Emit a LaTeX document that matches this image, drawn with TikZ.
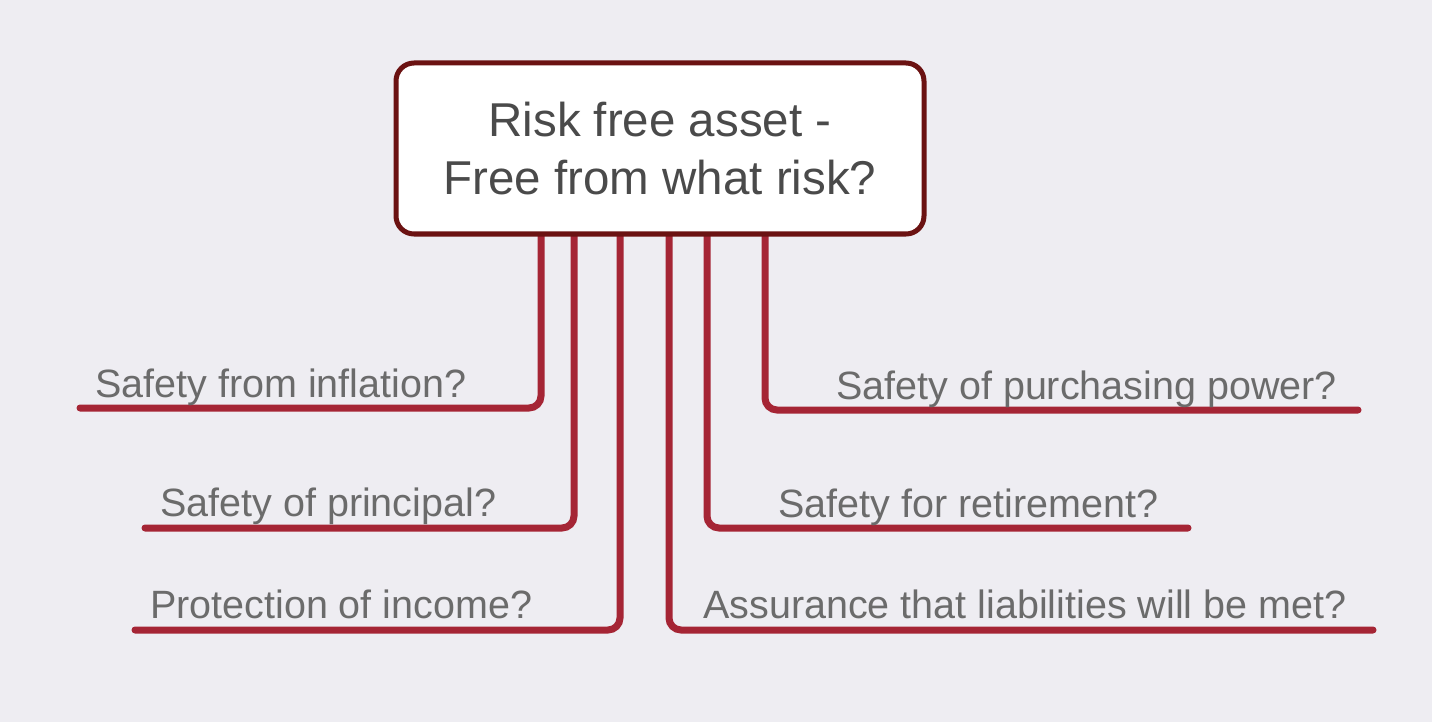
\documentclass[tikz,border=0pt]{standalone}
\usepackage{fontspec}
\setmainfont{Liberation Sans}
\usetikzlibrary{backgrounds}
\definecolor{bg}{HTML}{EEEDF2}
\definecolor{boxborder}{HTML}{6B1212}
\definecolor{branch}{HTML}{A52535}
\definecolor{titletext}{HTML}{4A4A4A}
\definecolor{leaftext}{HTML}{6B6B6B}
\begin{document}
\begin{tikzpicture}[x=1pt,y=-1pt,
  root/.style={draw=boxborder,line width=5pt,rounded corners=18pt,fill=white,minimum width=528pt,minimum height=171pt,align=center,text=titletext,font=\fontsize{47.5}{58}\selectfont},
  leaf/.style={anchor=base west,inner sep=0pt,text=leaftext,font=\fontsize{39.5}{44}\selectfont},
  br/.style={draw=branch,line width=7pt,rounded corners=12pt,line cap=round}]
\node[root] (c) at (660,148.5) {Risk free asset -\\Free from what risk?};
\node[leaf] (l1) at (95,397) {Safety from inflation?};
\node[leaf] (l2) at (160,516) {Safety of principal?};
\node[leaf] (l3) at (150,618) {Protection of income?};
\node[leaf] (r1) at (836,399) {Safety of purchasing power?};
\node[leaf] (r2) at (778,517) {Safety for retirement?};
\node[leaf] (r3) at (703,618) {Assurance that liabilities will be met?};
\coordinate (el1) at (80,408);
\coordinate (el2) at (145,528);
\coordinate (el3) at (135,630);
\coordinate (er1) at (1358,410);
\coordinate (er2) at (1188,528);
\coordinate (er3) at (1373,630);
\begin{pgfonlayer}{background}
\fill[bg] (0,0) rectangle (1432,722);
\draw[br] (541,236) -- (541,408) -- (el1);
\draw[br] (574,236) -- (574,528) -- (el2);
\draw[br] (620,236) -- (620,630) -- (el3);
\draw[br] (765,236) -- (765,410) -- (er1);
\draw[br] (707,236) -- (707,528) -- (er2);
\draw[br] (669,236) -- (669,630) -- (er3);
\end{pgfonlayer}
\useasboundingbox (0,0) rectangle (1432,722);
\end{tikzpicture}
\end{document}
